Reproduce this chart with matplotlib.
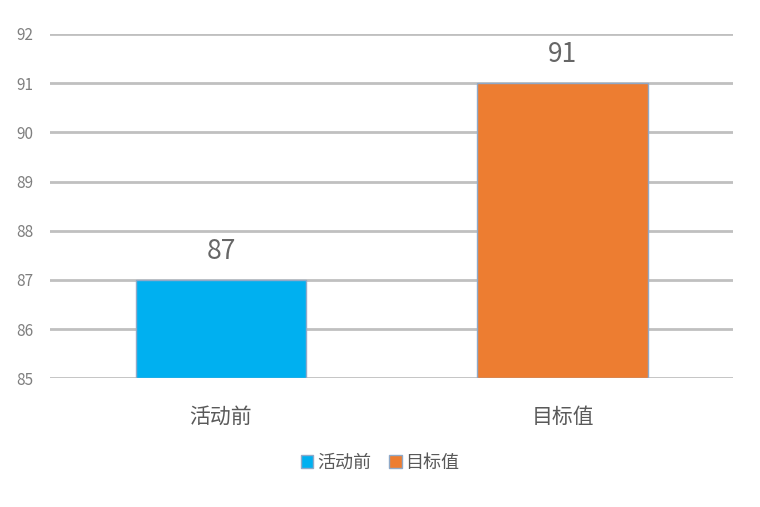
import matplotlib
matplotlib.use("Agg")
import matplotlib.pyplot as plt
from matplotlib.patches import Patch

plt.rcParams['font.family'] = ['Noto Sans CJK SC', 'DejaVu Sans']

# data
categories = ['活动前', '目标值']
values = [87, 91]
colors = ['#00B0F0', '#ED7D31']
y_ticks = [85, 86, 87, 88, 89, 90, 91, 92]

text_gray = '#7f7f7f'
grid_gray = '#c0c0c0'

fig = plt.figure(figsize=(7.6, 5.07), dpi=100)
ax = fig.add_axes([0.066, 0.254, 0.899, 0.679])

x = range(len(categories))
bars = ax.bar(x, [v - y_ticks[0] for v in values], bottom=y_ticks[0], width=0.5,
              color=colors, edgecolor='#8fa9c8', linewidth=1, zorder=3)

for xi, v in zip(x, values):
    ax.text(xi, v + 0.58, str(v), ha='center', va='center', fontsize=19, color='#666666')

ax.set_xlim(-0.5, 1.5)
ax.set_ylim(y_ticks[0], y_ticks[-1])
ax.set_yticks(y_ticks)
ax.set_yticklabels([str(t) for t in y_ticks], fontsize=11, color=text_gray)
ax.set_xticks(list(x))
ax.set_xticklabels(categories, fontsize=15, color='#595959')
ax.tick_params(axis='y', length=0, pad=12)
ax.tick_params(axis='x', length=0, pad=20)
ax.yaxis.grid(True, color=grid_gray, linewidth=2, zorder=0)
ax.set_axisbelow(True)
for s in ax.spines.values():
    s.set_visible(False)

handles = [Patch(facecolor=c, edgecolor='#8fa9c8', linewidth=1) for c in colors]
fig.legend(handles, categories, loc='center', bbox_to_anchor=(0.5, 0.087), ncol=2,
           frameon=False, fontsize=13, labelcolor='#595959',
           handlelength=0.7, handleheight=0.7, handletextpad=0.2, columnspacing=1.0)

fig.savefig('out.png', dpi=100)
